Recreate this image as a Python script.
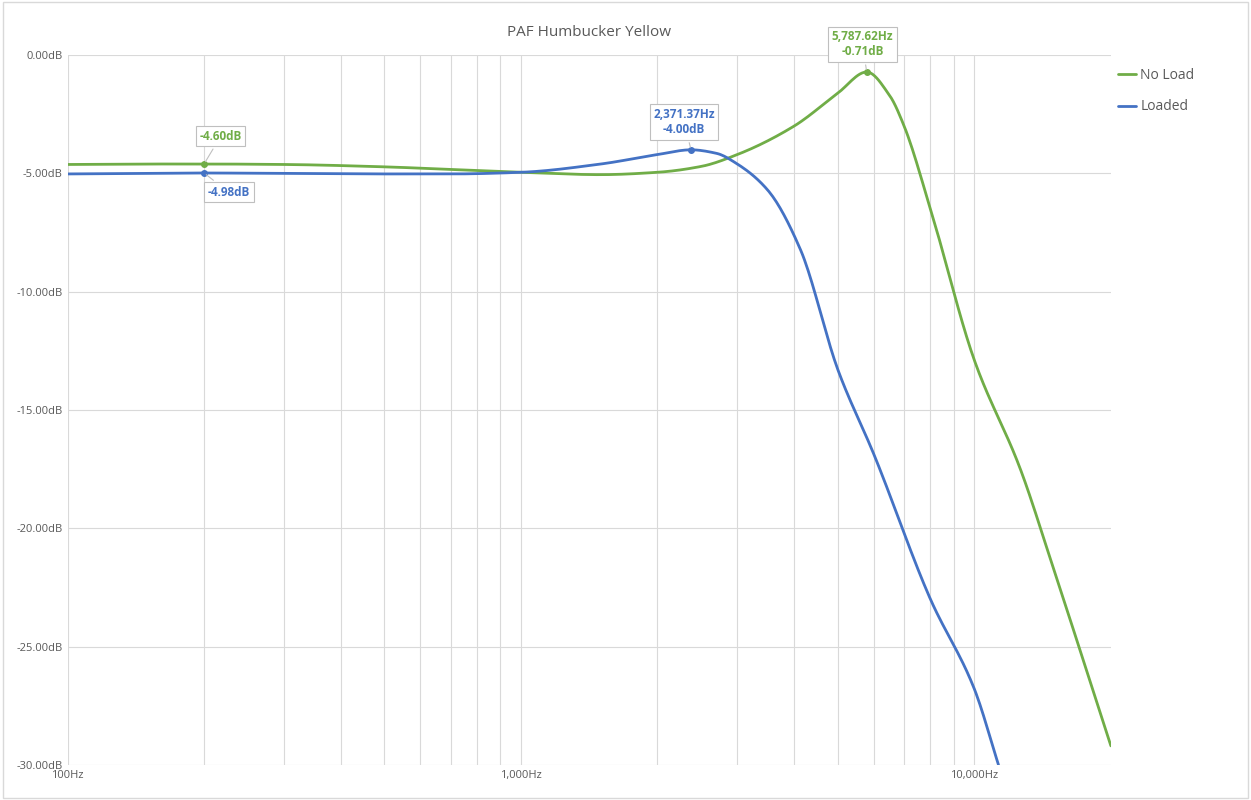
import numpy as np, pandas as pd, seaborn as sns, matplotlib
matplotlib.use("Agg")
import matplotlib.pyplot as plt
from matplotlib.ticker import FixedLocator, NullFormatter

sns.set_theme(style="white")
plt.rcParams['font.family'] = ['Open Sans', 'DejaVu Sans']

green_f = [100, 150, 200, 300, 500, 700, 1000, 1500, 2000, 2500, 3000, 4000, 5000, 5787.62, 6500, 7000, 8000, 10000, 12630, 15000, 20000]
green_db = [-4.62, -4.6, -4.6, -4.62, -4.72, -4.83, -4.95, -5.05, -4.95, -4.7, -4.2, -3.0, -1.6, -0.71, -1.7, -3.0, -6.5, -12.9, -17.5, -21.8, -29.2]
blue_f = [100, 150, 200, 300, 500, 700, 1000, 1500, 2000, 2371.37, 2700, 3000, 3500, 4130, 5000, 6010, 8000, 10000, 11300]
blue_db = [-5.02, -5.0, -4.98, -5.0, -5.02, -5.02, -4.95, -4.6, -4.2, -4.0, -4.15, -4.6, -5.7, -8.2, -13.3, -16.9, -23.0, -26.8, -30.0]

def pchip(f, d, n=500):
    x = np.log10(np.asarray(f, float)); y = np.asarray(d, float)
    h = np.diff(x); dl = np.diff(y) / h
    m = np.zeros_like(y)
    for i in range(1, len(y) - 1):
        if dl[i-1] * dl[i] > 0:
            w1 = 2*h[i] + h[i-1]; w2 = h[i] + 2*h[i-1]
            m[i] = (w1 + w2) / (w1/dl[i-1] + w2/dl[i])
    m[0] = dl[0]; m[-1] = dl[-1]
    xs = np.linspace(x[0], x[-1], n)
    idx = np.clip(np.searchsorted(x, xs) - 1, 0, len(h) - 1)
    t = (xs - x[idx]) / h[idx]
    h00 = 2*t**3 - 3*t**2 + 1; h10 = t**3 - 2*t**2 + t
    h01 = -2*t**3 + 3*t**2; h11 = t**3 - t**2
    ys = h00*y[idx] + h10*h[idx]*m[idx] + h01*y[idx+1] + h11*h[idx]*m[idx+1]
    return 10**xs, ys

gx, gy = pchip(green_f, green_db)
bx, by = pchip(blue_f, blue_db)
GREEN, BLUE = "#70ad47", "#4472c4"
df = pd.concat([pd.DataFrame({"f": gx, "dB": gy, "s": "No Load"}),
                pd.DataFrame({"f": bx, "dB": by, "s": "Loaded"})])

fig = plt.figure(figsize=(12.51, 8), dpi=100)
ax = fig.add_axes([0.054, 0.044, 0.834, 0.887])
sns.lineplot(data=df, x="f", y="dB", hue="s", palette={"No Load": GREEN, "Loaded": BLUE},
             lw=2, ax=ax, sort=False)
ax.set_xscale("log")
ax.set_xlim(100, 20000)
ax.set_ylim(-30, 0)
ax.set_yticks(np.arange(-30, 0.1, 5))
ax.set_yticklabels([f"{v:.2f}dB" for v in np.arange(-30, 0.1, 5)], fontsize=8, color="#595959")
ax.xaxis.set_major_locator(FixedLocator([100, 1000, 10000]))
ax.set_xticklabels(["100Hz", "1,000Hz", "10,000Hz"], fontsize=8, color="#595959")
ax.xaxis.set_minor_locator(FixedLocator([m*10**e for e in (2, 3, 4) for m in range(2, 10) if m*10**e < 20000]))
ax.xaxis.set_minor_formatter(NullFormatter())
ax.grid(True, which="both", color="#d9d9d9", lw=0.8)
ax.tick_params(length=0, which="both")
for s in ax.spines.values():
    s.set_visible(False)
ax.set_xlabel(""); ax.set_ylabel("")
ax.set_title("PAF Humbucker Yellow", fontsize=11, color="#595959", pad=14)
ax.legend(loc="upper left", bbox_to_anchor=(0.995, 1.0), frameon=False, fontsize=10,
          labelcolor="#595959", handlelength=1.3, handletextpad=0.3, labelspacing=1.2)

def ann(fx, fy, txt, col, dx, dy):
    ax.plot([fx], [fy], 'o', color=col, ms=4)
    ax.annotate(txt, (fx, fy), xytext=(dx, dy), textcoords="offset points", fontsize=8.5,
                color=col, fontweight="bold", ha="center", va="center",
                bbox=dict(boxstyle="square,pad=0.3", fc="white", ec="#bfbfbf", lw=0.8),
                arrowprops=dict(arrowstyle="-", color="#bfbfbf", lw=0.8))
ann(200, -4.60, "-4.60dB", GREEN, 12, 20)
ann(200, -4.98, "-4.98dB", BLUE, 18, -14)
ann(2371.37, -4.00, "2,371.37Hz\n-4.00dB", BLUE, -5, 20)
ann(5787.62, -0.71, "5,787.62Hz\n-0.71dB", GREEN, -3, 20)

fig.patches.append(plt.Rectangle((0.002, 0.002), 0.996, 0.996, transform=fig.transFigure,
                                 fill=False, ec="#d9d9d9", lw=1))
fig.savefig("out.png", dpi=100)
